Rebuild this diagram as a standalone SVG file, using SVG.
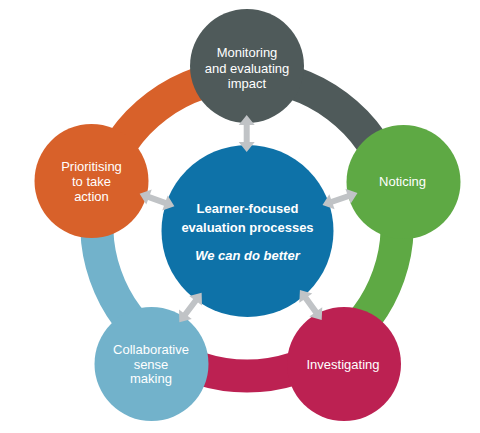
<svg xmlns="http://www.w3.org/2000/svg" width="480" height="433" viewBox="0 0 480 433">
  <style>
    .band { fill: none; stroke-width: 33; }
    .lbl { font-family: "Liberation Sans", Arial, sans-serif; font-size: 13px; fill: #ffffff; text-anchor: middle; }
    .ctr { font-family: "Liberation Sans", Arial, sans-serif; font-size: 13px; font-weight: bold; fill: #ffffff; text-anchor: middle; }
    .arr { fill: #c0c3c6; }
  </style>
  <defs>
    <path id="dbl" d="M-18.5,0 L-8.5,-8 L-8.5,-3 L8.5,-3 L8.5,-8 L18.5,0 L8.5,8 L8.5,3 L-8.5,3 L-8.5,8 Z"/>
  </defs>
  <rect width="480" height="433" fill="#ffffff"/>
  <g id="ring">
    <path class="band" stroke="#d8612a" d="M103,183.9 A150,150 0 0 1 247,76"/>
    <path class="band" stroke="#4f5a5a" d="M247,76 A150,150 0 0 1 391,183.9"/>
    <path class="band" stroke="#5ea944" d="M391,183.9 A150,150 0 0 1 333.3,348.7"/>
    <path class="band" stroke="#bc2152" d="M333.3,348.7 A150,150 0 0 1 160.8,348.7"/>
    <path class="band" stroke="#72b2cb" d="M160.8,348.7 A150,150 0 0 1 103,183.9"/>
  </g>
  <g id="center">
    <circle cx="247.5" cy="231" r="86" fill="#0e72a8"/>
    <text class="ctr" x="247.5" y="212.7">Learner-focused</text>
    <text class="ctr" x="247.5" y="231.7">evaluation processes</text>
    <text class="ctr" x="247.5" y="260" font-style="italic">We can do better</text>
  </g>
  <g id="monitoring">
    <circle cx="247" cy="66" r="57" fill="#4f5a5a"/>
    <text class="lbl" x="247" y="57.3">Monitoring</text>
    <text class="lbl" x="247" y="72.5">and evaluating</text>
    <text class="lbl" x="247" y="87.5">impact</text>
  </g>
  <g id="noticing">
    <circle cx="403.5" cy="182" r="57" fill="#5ea944"/>
    <text class="lbl" x="402.5" y="185.5">Noticing</text>
  </g>
  <g id="investigating">
    <circle cx="344" cy="364" r="57" fill="#bc2152"/>
    <text class="lbl" x="343" y="369">Investigating</text>
  </g>
  <g id="collaborative">
    <circle cx="151.5" cy="364" r="57" fill="#72b2cb"/>
    <text class="lbl" x="151" y="353.5">Collaborative</text>
    <text class="lbl" x="151" y="368.5">sense</text>
    <text class="lbl" x="151" y="383">making</text>
  </g>
  <g id="prioritising">
    <circle cx="91.5" cy="181" r="57" fill="#d8612a"/>
    <text class="lbl" x="91.5" y="170.7">Prioritising</text>
    <text class="lbl" x="91.5" y="186">to take</text>
    <text class="lbl" x="91.5" y="201.3">action</text>
  </g>
  <g id="connectors">
    <use href="#dbl" class="arr" transform="translate(246.7,133.5) rotate(90)"/>
    <use href="#dbl" class="arr" transform="translate(340,199) rotate(-19)"/>
    <use href="#dbl" class="arr" transform="translate(310.8,305) rotate(54)"/>
    <use href="#dbl" class="arr" transform="translate(190.5,307.5) rotate(-53)"/>
    <use href="#dbl" class="arr" transform="translate(157,200) rotate(20)"/>
  </g>
</svg>
